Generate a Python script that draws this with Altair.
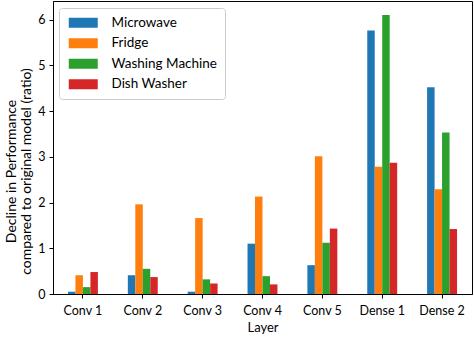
import altair as alt
import pandas as pd

layers = ["Conv 1", "Conv 2", "Conv 3", "Conv 4", "Conv 5", "Dense 1", "Dense 2"]
series = ["Microwave", "Fridge", "Washing Machine", "Dish Washer"]
colors = ["#1f77b4", "#ff7f0e", "#2ca02c", "#d62728"]
microwave = [0.05, 0.41, 0.05, 1.10, 0.63, 5.76, 4.52]
fridge = [0.41, 1.96, 1.66, 2.13, 3.01, 2.78, 2.29]
washing = [0.15, 0.55, 0.32, 0.39, 1.12, 6.10, 3.53]
dish = [0.48, 0.37, 0.23, 0.21, 1.43, 2.87, 1.42]

rows = []
for name, vals in zip(series, [microwave, fridge, washing, dish]):
    for layer, v in zip(layers, vals):
        rows.append({"Layer": layer, "Series": name, "Value": v})
df = pd.DataFrame(rows)

FONT = "Lato"
# empty slots on both sides so the four bars fill half of each band
offset_domain = ["_l1", "_l2"] + series + ["_r1", "_r2"]

chart = alt.Chart(df).mark_bar().encode(
    x=alt.X("Layer:N", sort=layers,
            scale=alt.Scale(paddingInner=0, paddingOuter=0),
            axis=alt.Axis(title="Layer", labelAngle=0, labelFontSize=12.5,
                          titleFontSize=13, titleFontWeight="normal",
                          titlePadding=5, labelPadding=6)),
    xOffset=alt.XOffset("Series:N",
                        scale=alt.Scale(domain=offset_domain, paddingInner=0, paddingOuter=0)),
    y=alt.Y("Value:Q", scale=alt.Scale(domain=[0, 6.405], nice=False),
            axis=alt.Axis(title=["Decline in Performance", "compared to original model (ratio)"],
                          values=[0, 1, 2, 3, 4, 5, 6], grid=False,
                          labelFontSize=12.5, titleFontSize=14,
                          titleFontWeight="normal", titleLineHeight=15,
                          titleX=-38, titleY=170, titleBaseline="alphabetic",
                          labelPadding=4)),
    color=alt.Color("Series:N", sort=series,
                    scale=alt.Scale(domain=series, range=colors),
                    legend=alt.Legend(title=None, orient="none", legendX=6, legendY=7,
                                      symbolType="M-1,-1L4.8,-1L4.8,1L-1,1Z",
                                      symbolSize=100, symbolStrokeWidth=0,
                                      symbolOpacity=1, labelFontSize=13.5,
                                      labelOffset=31, rowPadding=5.5,
                                      padding=8, strokeColor="#cccccc",
                                      fillColor="white", cornerRadius=3,
                                      labelLimit=300,
                                      labelExpr="datum.label + '\u2003\u2002\u2009'")),
).properties(
    width=419, height=293,
    autosize="none",
    padding={"left": 53, "top": 1, "right": 2, "bottom": 43},
).configure_axis(
    domainColor="black", tickColor="black", labelColor="black", titleColor="black",
    labelFont=FONT, titleFont=FONT, tickSize=4, domainWidth=1,
).configure_legend(
    labelFont=FONT, labelColor="black",
).configure_view(
    stroke="black", strokeWidth=1,
)

chart.save("out.html", embed_options={"renderer": "svg", "actions": False})
